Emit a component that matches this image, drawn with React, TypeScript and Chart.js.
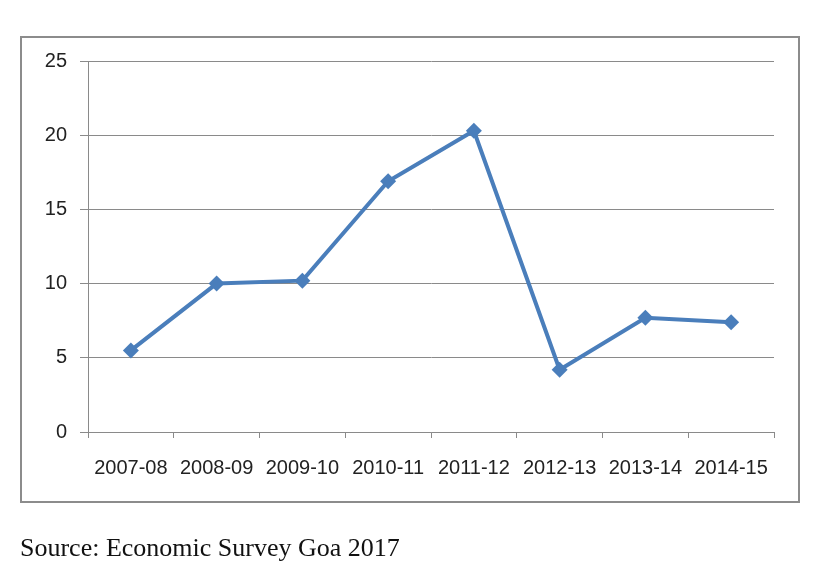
import React, { useEffect, useRef } from 'react';
import { Chart, registerables } from 'chart.js';

Chart.register(...registerables);

const years = ['2007-08', '2008-09', '2009-10', '2010-11', '2011-12', '2012-13', '2013-14', '2014-15'];
const growth = [5.5, 10.0, 10.2, 16.9, 20.3, 4.2, 7.7, 7.4];
const yTicks = [0, 5, 10, 15, 20, 25];

const W = 825;
const H = 570;
const gridColor = '#8a8a8a';
const labelColor = '#222';

const App: React.FC = () => {
  const canvasRef = useRef<HTMLCanvasElement>(null);

  useEffect(() => {
    if (!canvasRef.current) return;
    const ctx = canvasRef.current.getContext('2d');
    if (!ctx) return;

    const chart = new Chart(ctx, {
      type: 'line',
      data: {
        labels: years,
        datasets: [{
          data: growth,
          borderColor: '#4a7ebb',
          backgroundColor: '#4a7ebb',
          borderWidth: 4,
          pointStyle: 'rectRot',
          pointRadius: 8,
          pointBorderWidth: 0,
          tension: 0,
        }],
      },
      options: {
        responsive: false,
        animation: false,
        layout: { padding: { top: 61, right: 51, left: 0, bottom: 0 } },
        plugins: { legend: { display: false }, tooltip: { enabled: false } },
        scales: {
          x: {
            offset: true,
            grid: { offset: true, drawOnChartArea: false, drawTicks: true, tickLength: 6, color: gridColor },
            border: { display: true, color: gridColor, width: 1 },
            ticks: { color: labelColor, font: { family: 'Liberation Sans', size: 20 }, padding: 18, maxRotation: 0 },
            afterFit: (scale: any) => { scale.height = H - 432; },
          },
          y: {
            min: 0,
            max: 25,
            afterBuildTicks: (scale: any) => { scale.ticks = yTicks.map(v => ({ value: v })); },
            grid: { drawTicks: true, tickLength: 8, color: gridColor },
            border: { display: true, color: gridColor, width: 1 },
            ticks: { color: labelColor, font: { family: 'Liberation Sans', size: 20 }, padding: 13 },
            afterFit: (scale: any) => { scale.width = 88; },
          },
        },
      },
    });

    return () => chart.destroy();
  }, []);

  return (
    <div style={{ position: 'absolute', left: 0, top: 0, width: W, height: H, background: '#fff' }}>
      <div style={{ position: 'absolute', left: 20, top: 36, width: 776, height: 463, border: '2px solid #8c8c8c' }} />
      <canvas ref={canvasRef} width={W} height={H} style={{ position: 'absolute', left: 0, top: 0, width: W, height: H }} />
      <div style={{ position: 'absolute', left: 20, top: 535, fontFamily: 'Liberation Serif', fontSize: 26, lineHeight: '26px', color: '#111', whiteSpace: 'nowrap' }}>
        Source: Economic Survey Goa 2017
      </div>
    </div>
  );
};

export default App;
